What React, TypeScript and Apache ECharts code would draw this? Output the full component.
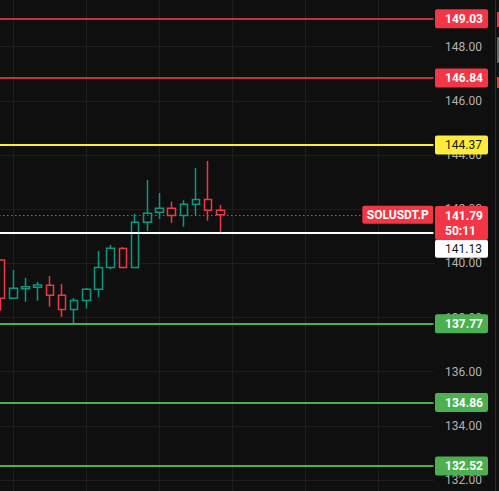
import React, { useEffect, useRef } from "react";
import * as echarts from "echarts";

// ---- data ----
const slotLabels = Array.from({ length: 36 }, (_, i) => `k${i + 1}`);
const opens = [140.12, 138.71, 139.06, 139.12, 139.19, 138.82, 138.3, 138.63, 139.04, 139.85, 140.55, 139.85, 141.52, 141.89, 142.03, 141.77, 142.18, 142.36, 141.96];
const closes = [138.71, 139.08, 139.14, 139.2, 138.82, 138.3, 138.63, 139.04, 139.85, 140.56, 139.85, 141.52, 141.85, 142.03, 141.77, 142.18, 142.36, 141.96, 141.79];
const lows = [138.25, 138.71, 138.58, 138.62, 138.4, 138.03, 137.79, 138.33, 138.75, 139.78, 139.85, 139.85, 141.19, 141.65, 141.5, 141.35, 141.77, 141.57, 141.11];
const highs = [140.14, 139.75, 139.46, 139.31, 139.53, 139.24, 138.72, 139.09, 140.46, 140.68, 140.6, 141.82, 143.08, 142.6, 142.27, 142.33, 143.52, 143.78, 142.15];

const resistanceLevels = [149.03, 146.84];
const pivotLevel = 144.37;
const refLevel = 141.13;
const supportLevels = [137.77, 134.86, 132.52];
const lastPrice = 141.79;
const countdown = "50:11";
const symbolName = "SOLUSDT.P";

const yMin = 130;
const yMax = 150;
const yStep = 2;

// ---- styles ----
const BG = "#0f0f0f";
const GRID = "#1e1e1e";
const UP = "#089981";
const DOWN = "#f23645";
const FONT = "Roboto, 'Liberation Sans', sans-serif";

const boxLabel = (bg: string, fg: string, extra: any = {}) => ({
  show: true,
  position: "end",
  distance: 1.5,
  formatter: (p: any) => Number(p.value).toFixed(2),
  backgroundColor: bg,
  color: fg,
  fontFamily: FONT,
  fontSize: 12,
  fontWeight: "bold",
  lineHeight: 13,
  width: 38,
  padding: [3, 5, 3, 10],
  borderRadius: 2,
  ...extra,
});

export default function App() {
  const ref = useRef<HTMLDivElement>(null);

  useEffect(() => {
    if (!ref.current) return;
    const chart = echarts.init(ref.current, undefined, { renderer: "svg" });

    const candleData = opens.map((o, i) => [o, closes[i], lows[i], highs[i]]);

    const markData: any[] = [];
    resistanceLevels.forEach((v) =>
      markData.push({
        yAxis: v,
        lineStyle: { color: "#c8303d", width: 2, type: "solid" },
        label: boxLabel(DOWN, "#ffffff"),
      })
    );
    markData.push({
      yAxis: pivotLevel,
      lineStyle: { color: "#ffeb3b", width: 2, type: "solid" },
      label: boxLabel("#ffeb3b", "#131722", { fontWeight: "normal" }),
    });
    supportLevels.forEach((v) =>
      markData.push({
        yAxis: v,
        lineStyle: { color: "#4caf50", width: 2, type: "solid" },
        label: boxLabel("#4caf50", "#ffffff"),
      })
    );
    markData.push({
      yAxis: refLevel,
      lineStyle: { color: "#ffffff", width: 2, type: "solid" },
      label: boxLabel("#ffffff", "#131722", { fontWeight: "normal", offset: [0, 16], padding: [2.5, 5, 2.5, 10] }),
    });
    markData.push({
      yAxis: lastPrice,
      lineStyle: { color: DOWN, width: 1, type: [1.5, 2.5] },
      label: boxLabel(DOWN, "#ffffff", {
        formatter: (p: any) => `${Number(p.value).toFixed(2)}\n${countdown}`,
        lineHeight: 15,
        padding: [2, 5, 2, 10],
        offset: [0, 8.2],
      }),
    });
    markData.push({
      yAxis: lastPrice,
      lineStyle: { color: "rgba(0,0,0,0)", width: 1, type: "solid" },
      label: boxLabel(DOWN, "#ffffff", {
        formatter: () => symbolName,
        width: 62,
        align: "left",
        padding: [3, 4.5, 2, 4.5],
        offset: [-72.7, 0],
      }),
    });

    chart.setOption({
      animation: false,
      backgroundColor: BG,
      grid: {
        left: -5,
        width: 438.5,
        top: -7.46,
        height: 541.6,
        containLabel: false,
        outerBoundsMode: "none",
      },
      xAxis: {
        type: "category",
        data: slotLabels,
        boundaryGap: true,
        axisLine: { show: false },
        axisTick: { show: false },
        axisLabel: { show: false },
        splitLine: {
          show: true,
          alignWithLabel: true,
          interval: (index: number) => index % 6 === 1,
          lineStyle: { color: GRID, width: 1 },
        },
      },
      yAxis: {
        type: "value",
        position: "right",
        min: yMin,
        max: yMax,
        interval: yStep,
        axisLine: { show: false },
        axisTick: { show: false },
        axisLabel: {
          margin: 11.5,
          color: "#b2b2b2",
          fontSize: 12,
          fontFamily: FONT,
          showMinLabel: false,
          showMaxLabel: false,
          formatter: (v: number) => v.toFixed(2),
        },
        splitLine: { show: true, lineStyle: { color: GRID, width: 1 } },
      },
      series: [
        {
          type: "candlestick",
          data: candleData,
          barWidth: 8,
          itemStyle: {
            color: BG,
            color0: BG,
            borderColor: UP,
            borderColor0: DOWN,
            borderWidth: 1.5,
          },
          markLine: {
            silent: true,
            symbol: ["none", "none"],
            animation: false,
            data: markData,
          },
        },
      ],
      graphic: [
        { type: "line", shape: { x1: 495.5, y1: 0, x2: 495.5, y2: 491 }, style: { stroke: "#2a2a2a", lineWidth: 1 } },
        { type: "rect", shape: { x: 497, y: 12, width: 2, height: 15 }, style: { fill: DOWN } },
        { type: "rect", shape: { x: 497, y: 37, width: 2, height: 26, r: 1 }, style: { fill: "#6a6a6a" } },
        { type: "rect", shape: { x: 497, y: 77, width: 2, height: 11 }, style: { fill: DOWN } },
      ],
    });

    return () => chart.dispose();
  }, []);

  return (
    <div
      ref={ref}
      style={{ position: "fixed", left: 0, top: 0, width: 499, height: 491, background: BG }}
    />
  );
}
